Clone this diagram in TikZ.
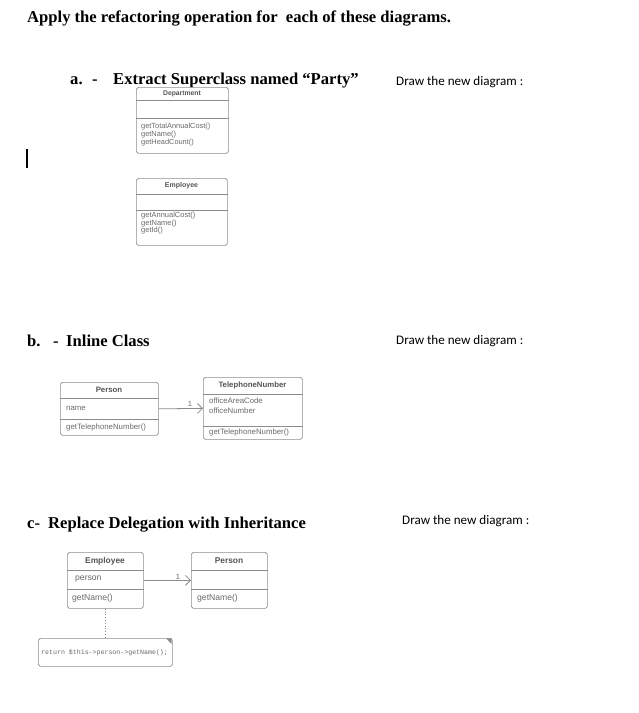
\documentclass[tikz,border=0pt]{standalone}
\usepackage{fontspec}
\setmainfont{Liberation Serif}
\setsansfont{Liberation Sans}
\setmonofont{Liberation Mono}
\newfontfamily\calib{Carlito}
\usetikzlibrary{arrows.meta}
\definecolor{boxline}{HTML}{8C8C8C}
\definecolor{boxtext}{HTML}{6A6A6A}
\definecolor{boxtitle}{HTML}{555555}
\tikzset{
  umlbox/.style={draw=boxline, line width=0.7pt, rounded corners=1.8pt, anchor=north west, inner sep=0pt, fill=white},
  divider/.style={draw=boxline, line width=0.6pt},
  heading/.style={anchor=base west, inner sep=0pt, font=\bfseries\fontsize{16.6}{16.6}\selectfont},
  drawnote/.style={anchor=base west, inner sep=0pt, font=\calib\fontsize{13.1}{13.1}\selectfont},
  ttl/.style={inner sep=0pt, text=boxtitle, font=\sffamily\bfseries\fontsize{#1}{#1}\selectfont},
  mem/.style={inner sep=0pt, text=boxtext, align=left, font=\sffamily\fontsize{#1}{#1}\selectfont},
  assoc/.style={draw=boxline, line width=0.8pt, -{Straight Barb[length=5pt,width=10pt]}},
  mult/.style={inner sep=0pt, text=boxtext, font=\sffamily\fontsize{7.5}{7.5}\selectfont}
}
\begin{document}
\begin{tikzpicture}[x=1pt,y=-1pt]
\fill[white] (0,0) rectangle (638,713);
\useasboundingbox (0,0) rectangle (638,713);

% headings
\node[heading] (title) at (27,22) {Apply the refactoring operation for\ \ each of these diagrams.};
\node[heading] (ha1) at (70,84) {a.};
\node[heading] (ha2) at (92,84) {-};
\node[heading] (ha3) at (113,84) {Extract Superclass named “Party”};
\node[drawnote] (da) at (396,85) {Draw the new diagram :};
\node[heading] (hb1) at (27,346) {b.};
\node[heading] (hb2) at (53,346) {-};
\node[heading] (hb3) at (66,346) {Inline Class};
\node[drawnote] (db) at (396,344) {Draw the new diagram :};
\node[heading] (hc1) at (27,528) {c-};
\node[heading] (hc3) at (48,528) {Replace Delegation with Inheritance};
\node[drawnote] (dc) at (402,524) {Draw the new diagram :};

% cursor
\draw[line width=1.1pt] (27,149) -- (27,168);

% ---- a: Department
\node[umlbox, minimum width=92pt, minimum height=66pt] (dept) at (136,87) {};
\draw[divider] (dept.west |- 0,100) -- (dept.east |- 0,100);
\draw[divider] (dept.west |- 0,118) -- (dept.east |- 0,118);
\node[ttl=6.8] (deptT) at (182,93.5) {Department};
\node[mem=7.4, anchor=north west, font=\sffamily\fontsize{7.4}{8.2}\selectfont] (deptM) at (141,122.5) {getTotalAnnualCost()\\getName()\\getHeadCount()};

% ---- a: Employee
\node[umlbox, minimum width=91pt, minimum height=67pt] (emp) at (136,178) {};
\draw[divider] (emp.west |- 0,194) -- (emp.east |- 0,194);
\draw[divider] (emp.west |- 0,210) -- (emp.east |- 0,210);
\node[ttl=7] (empT) at (181.5,186) {Employee};
\node[mem=7.5, anchor=north west, font=\sffamily\fontsize{7.5}{7.6}\selectfont] (empM) at (141,211.8) {getAnnualCost()\\getName()\\getId()};

% ---- b: Person
\node[umlbox, minimum width=98pt, minimum height=53pt] (pb) at (60,382) {};
\draw[divider] (pb.west |- 0,398) -- (pb.east |- 0,398);
\draw[divider] (pb.west |- 0,419) -- (pb.east |- 0,419);
\node[ttl=7.8] (pbT) at (109,390) {Person};
\node[mem=7.8, anchor=west] (pbA) at (66,408) {name};
\node[mem=7.8, anchor=west] (pbM) at (66,427) {getTelephoneNumber()};

% ---- b: TelephoneNumber
\node[umlbox, minimum width=99pt, minimum height=62pt] (tb) at (203,377) {};
\draw[divider] (tb.west |- 0,394) -- (tb.east |- 0,394);
\draw[divider] (tb.west |- 0,426) -- (tb.east |- 0,426);
\node[ttl=7.8] (tbT) at (252.5,385.5) {TelephoneNumber};
\node[mem=7.8, anchor=north west, font=\sffamily\fontsize{7.8}{9.5}\selectfont] (tbA) at (209,398) {officeAreaCode\\officeNumber};
\node[mem=7.8, anchor=west] (tbM) at (209,432) {getTelephoneNumber()};

\draw[assoc] (pb.east) -- (tb.west);
\node[mult] (m1) at (190,404) {1};

% ---- c: Employee
\node[umlbox, minimum width=76pt, minimum height=56pt] (ce) at (67,552) {};
\draw[divider] (ce.west |- 0,570) -- (ce.east |- 0,570);
\draw[divider] (ce.west |- 0,589) -- (ce.east |- 0,589);
\node[ttl=8.4] (ceT) at (105,561) {Employee};
\node[mem=8.6, anchor=west] (ceA) at (75,579.5) {person};
\node[mem=8.6, anchor=west] (ceM) at (72,598.5) {getName()};

% ---- c: Person
\node[umlbox, minimum width=76pt, minimum height=56pt] (cp) at (191,552) {};
\draw[divider] (cp.west |- 0,570) -- (cp.east |- 0,570);
\draw[divider] (cp.west |- 0,589) -- (cp.east |- 0,589);
\node[ttl=8.4] (cpT) at (229,561) {Person};
\node[mem=8.6, anchor=west] (cpM) at (197,598.5) {getName()};

\draw[assoc] (ce.east) -- (cp.west);
\node[mult] (m2) at (178,577) {1};

% ---- c: note
\node[umlbox, minimum width=134pt, minimum height=28pt] (note) at (38,638) {};
\fill[boxline] (166,638.4) -- (171.6,644) -- (171.6,638.4) -- cycle;
\node[inner sep=0pt, anchor=west, text=boxtext, font=\ttfamily\fontsize{6.6}{6.6}\selectfont] (noteT) at (41,653) {return \$this->person->getName();};
\draw[boxline, line width=0.8pt, dotted] (ce.south) -- (note.north);
\end{tikzpicture}
\end{document}
